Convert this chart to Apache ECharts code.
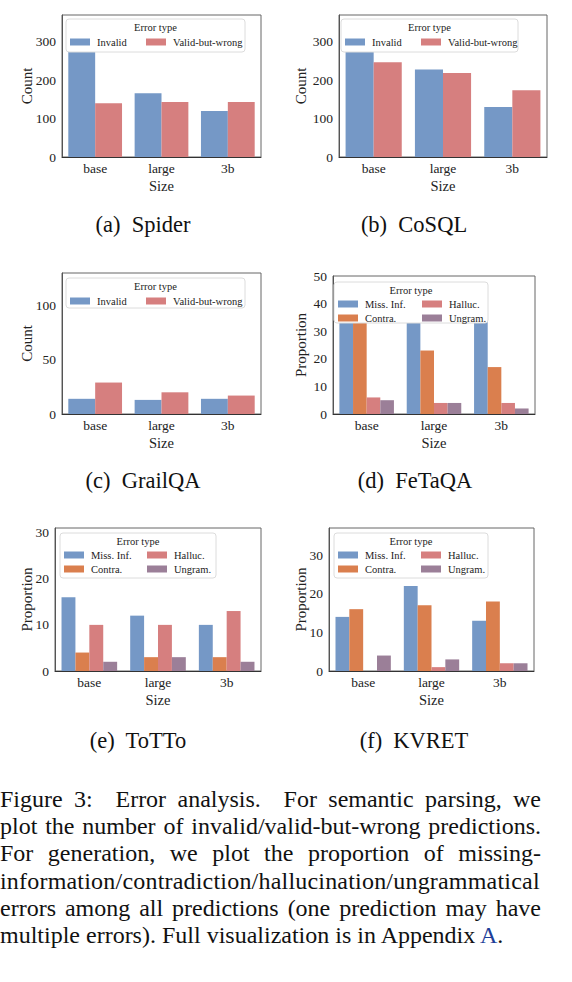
<!DOCTYPE html>
<html lang="en">
<head>
<meta charset="UTF-8">
<title>Error analysis</title>
<script src="https://cdn.jsdelivr.net/npm/echarts@6.0.0/dist/echarts.min.js"></script>
<style>
    body { margin: 0; background: #fff; }
    #main { width: 572px; height: 780px; }
    #cap {
        position: absolute; left: 0; top: 786px; width: 541px;
        font-family: "Liberation Serif", "DejaVu Serif", serif; font-size: 24px; line-height: 27.2px; color: #111;
    }
    #cap div { text-align: justify; text-align-last: justify; white-space: nowrap; }
    #cap div.wide { letter-spacing: 0.2px; }
    #cap div.last { text-align-last: left; }
    #cap span.ref { color: #1f3f99; }
</style>
</head>
<body>
<div id="main"></div>
<div id="cap">
    <div>Figure 3:&nbsp; Error analysis.&nbsp; For semantic parsing, we</div>
    <div>plot the number of invalid/valid-but-wrong predictions.</div>
    <div>For generation, we plot the proportion of missing-</div>
    <div class="wide">information/contradiction/hallucination/ungrammatical</div>
    <div>errors among all predictions (one prediction may have</div>
    <div class="last">multiple errors). Full visualization is in Appendix <span class="ref">A</span>.</div>
</div>
<script type="text/javascript">
    // 数据
    var sizes = ['base', 'large', '3b'];

    var spiderInvalid = [280, 166, 120];
    var spiderVbw = [140, 143, 143];
    var cosqlInvalid = [280, 228, 130];
    var cosqlVbw = [247, 219, 174];
    var grailInvalid = [14, 13, 14];
    var grailVbw = [29, 20, 17];

    var fetaMiss = [34, 34, 34];
    var fetaContra = [34, 23, 17];
    var fetaHalluc = [6, 4, 4];
    var fetaUngram = [5, 4, 2];
    var tottoMiss = [16, 12, 10];
    var tottoContra = [4, 3, 3];
    var tottoHalluc = [10, 10, 13];
    var tottoUngram = [2, 3, 2];
    var kvretMiss = [14, 22, 13];
    var kvretContra = [16, 17, 18];
    var kvretHalluc = [0, 1, 2];
    var kvretUngram = [4, 3, 2];

    var FONT = '"Liberation Serif", "DejaVu Serif", serif';
    var C_BLUE = '#7598c6', C_RED = '#d67f7f', C_ORANGE = '#da7f4e', C_MAUVE = '#9b7f98';

    var panels = [
        {grid: [62, 15, 199, 142], max: 370, step: 100, yName: 'Count', nameGap: 28,
            box: [66, 19, 179, 33], cols: [[4, ['Invalid']], [80, ['Valid-but-wrong']]],
            caption: [143, 224, '(a)\u00a0 Spider'],
            series: [['Invalid', spiderInvalid, C_BLUE], ['Valid-but-wrong', spiderVbw, C_RED]]},
        {grid: [339, 15, 208, 142], max: 370, step: 100, yName: 'Count', nameGap: 31,
            box: [341, 19, 177, 33], cols: [[4, ['Invalid']], [80, ['Valid-but-wrong']]],
            caption: [414, 224, '(b)\u00a0 CoSQL'],
            series: [['Invalid', cosqlInvalid, C_BLUE], ['Valid-but-wrong', cosqlVbw, C_RED]]},
        {grid: [62, 273, 199, 141], max: 130, step: 50, yName: 'Count', nameGap: 28,
            box: [66, 278, 179, 30], cols: [[4, ['Invalid']], [80, ['Valid-but-wrong']]],
            caption: [143, 480, '(c)\u00a0 GrailQA'],
            series: [['Invalid', grailInvalid, C_BLUE], ['Valid-but-wrong', grailVbw, C_RED]]},
        {grid: [333, 276, 202, 138], max: 50, step: 10, yName: 'Proportion', nameGap: 25,
            box: [334, 282, 154, 41], cols: [[4, ['Miss. Inf.', 'Contra.']], [88, ['Halluc.', 'Ungram.']]],
            caption: [415, 480, '(d)\u00a0 FeTaQA'],
            series: [['Miss. Inf.', fetaMiss, C_BLUE], ['Contra.', fetaContra, C_ORANGE],
                ['Halluc.', fetaHalluc, C_RED], ['Ungram.', fetaUngram, C_MAUVE]]},
        {grid: [55, 528, 206, 143], max: 31, step: 10, yName: 'Proportion', nameGap: 21,
            box: [60, 533, 156, 45], cols: [[4, ['Miss. Inf.', 'Contra.']], [87, ['Halluc.', 'Ungram.']]],
            caption: [138, 740, '(e)\u00a0 ToTTo'],
            series: [['Miss. Inf.', tottoMiss, C_BLUE], ['Contra.', tottoContra, C_ORANGE],
                ['Halluc.', tottoHalluc, C_RED], ['Ungram.', tottoUngram, C_MAUVE]]},
        {grid: [329, 528, 205, 143], max: 37, step: 10, yName: 'Proportion', nameGap: 21,
            box: [334, 533, 154, 45], cols: [[4, ['Miss. Inf.', 'Contra.']], [87, ['Halluc.', 'Ungram.']]],
            caption: [414, 740, '(f)\u00a0 KVRET'],
            series: [['Miss. Inf.', kvretMiss, C_BLUE], ['Contra.', kvretContra, C_ORANGE],
                ['Halluc.', kvretHalluc, C_RED], ['Ungram.', kvretUngram, C_MAUVE]]}
    ];

    var option = {
        animation: false,
        grid: [], xAxis: [], yAxis: [], series: [], legend: [], graphic: []
    };

    panels.forEach(function (p, i) {
        option.grid.push({
            left: p.grid[0], top: p.grid[1], width: p.grid[2], height: p.grid[3],
            show: true, borderColor: '#666', borderWidth: 1, backgroundColor: '#fff'
        });
        option.xAxis.push({
            gridIndex: i, type: 'category', data: sizes,
            axisLine: {lineStyle: {color: '#333', width: 1}},
            axisTick: {show: false},
            axisLabel: {fontFamily: FONT, fontSize: 13.5, color: '#222', margin: 4},
            name: 'Size', nameLocation: 'middle', nameGap: 21, nameMoveOverlap: false,
            nameTextStyle: {fontFamily: FONT, fontSize: 14.5, color: '#222'}
        });
        option.yAxis.push({
            gridIndex: i, type: 'value', min: 0, max: p.max, interval: p.step,
            axisLine: {show: true, lineStyle: {color: '#555', width: 1}},
            axisTick: {show: false},
            splitLine: {show: false},
            axisLabel: {fontFamily: FONT, fontSize: 13.5, color: '#222', margin: 6,
                showMaxLabel: p.max % p.step === 0},
            name: p.yName, nameLocation: 'middle', nameGap: p.nameGap, nameMoveOverlap: false,
            nameTextStyle: {fontFamily: FONT, fontSize: 15, color: '#222'}
        });
        p.series.forEach(function (s) {
            option.series.push({
                type: 'bar', name: s[0], data: s[1], xAxisIndex: i, yAxisIndex: i,
                itemStyle: {color: s[2]}, barGap: '0%', barCategoryGap: '19%', z: 2
            });
        });

        var bx = p.box[0], by = p.box[1], bw = p.box[2], bh = p.box[3];
        var rows = p.cols[0][1].length;
        var rowTop = by + (rows === 1 ? 17 : 16);
        // 图例框
        option.graphic.push({
            type: 'rect', z: 5,
            shape: {x: bx, y: by, width: bw, height: bh, r: 3},
            style: {fill: '#fff', stroke: '#dcdcdc', lineWidth: 1}
        });
        option.graphic.push({
            type: 'text', z: 11, x: bx + bw / 2, y: by + 8.5,
            style: {text: 'Error type', fontFamily: FONT, fontSize: 10.5, fill: '#222',
                align: 'center', verticalAlign: 'middle'}
        });
        p.cols.forEach(function (c) {
            option.legend.push({
                left: bx + c[0], top: rowTop, orient: 'vertical', data: c[1],
                itemWidth: 20, itemHeight: 7, itemGap: 2, padding: 0, icon: 'rect',
                selectedMode: false, z: 10,
                textStyle: {fontFamily: FONT, fontSize: 10.5, color: '#222', lineHeight: 12,
                    padding: [0, 0, 0, 2]}
            });
        });
        option.graphic.push({
            type: 'text', x: p.caption[0], y: p.caption[1],
            style: {text: p.caption[2], fontFamily: FONT, fontSize: 22.5, fill: '#111',
                align: 'center', verticalAlign: 'middle'}
        });
    });

    var myChart = echarts.init(document.getElementById('main'), null, {renderer: 'svg'});
    myChart.setOption(option);
</script>
</body>
</html>
